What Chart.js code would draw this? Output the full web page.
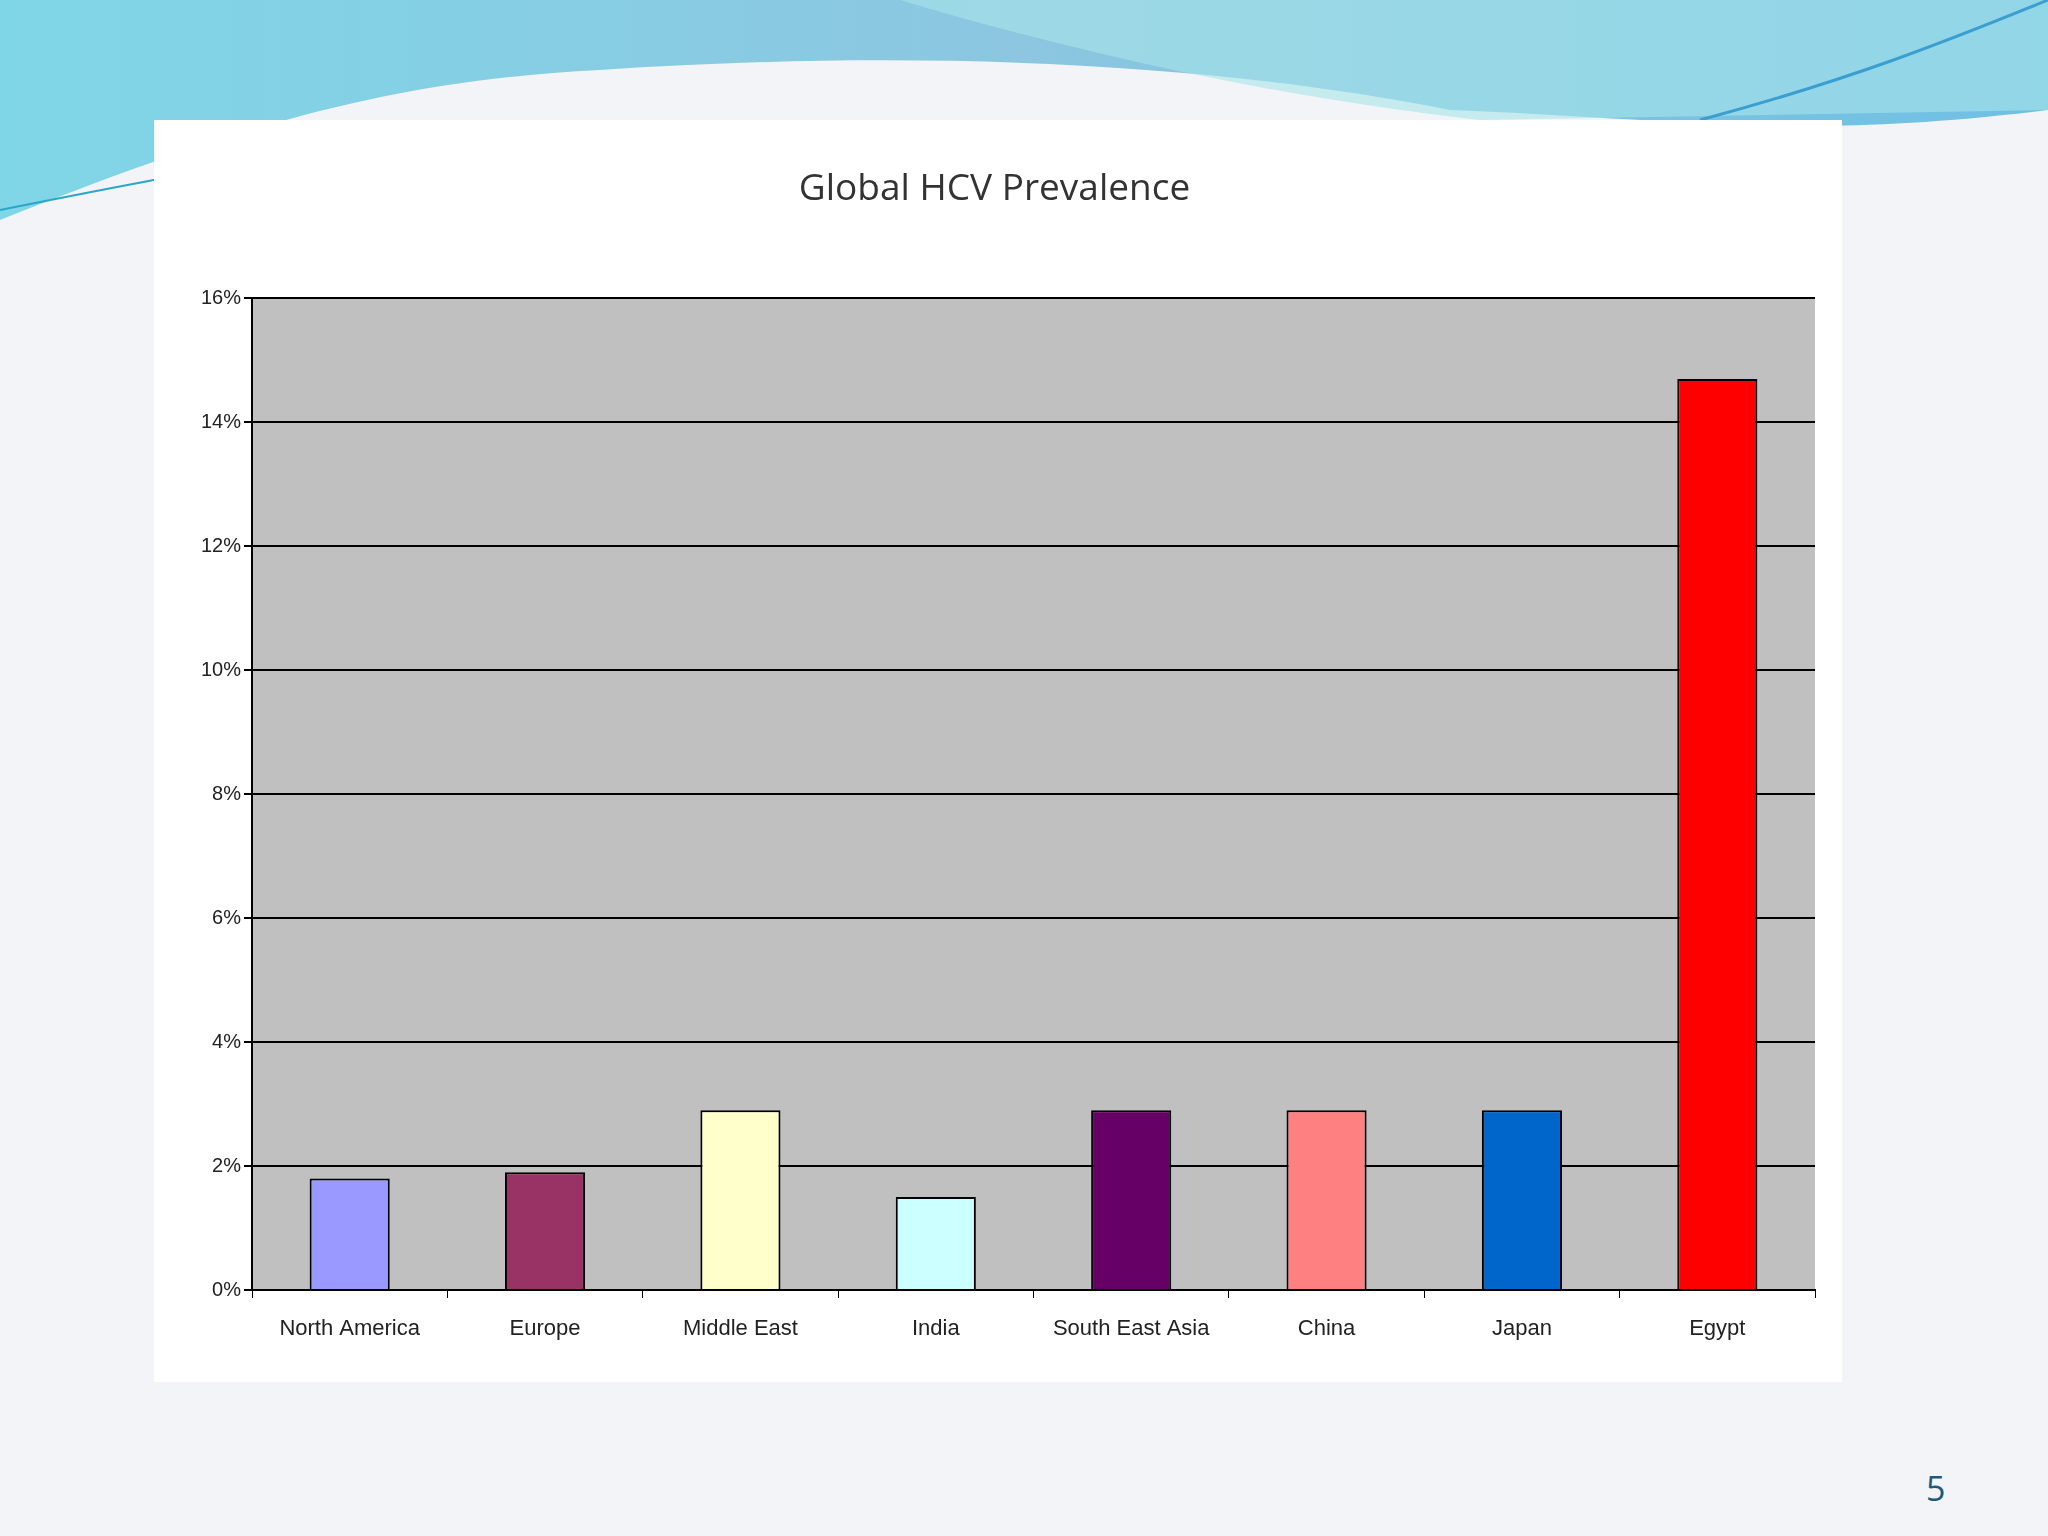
<!DOCTYPE html>
<html><head><meta charset="utf-8">
<script src="https://cdn.jsdelivr.net/npm/chart.js"></script>
<style>
html,body{margin:0;padding:0;width:2048px;height:1536px;overflow:hidden;background:#f3f4f7;font-family:"Open Sans",sans-serif}
#deco{position:absolute;left:0;top:0}
#panel{position:absolute;left:154px;top:120px;width:1688px;height:1262px;background:#fff}
#num{position:absolute;left:1926px;top:1465px;font-size:34px;color:#1f5a7a}
</style></head><body>
<svg id="deco" width="2048" height="240">
<defs><linearGradient id="g1" x1="0" x2="1"><stop offset="0" stop-color="#7fd6e6"/><stop offset="0.5" stop-color="#8cc6e0"/><stop offset="1" stop-color="#6fc0e4"/></linearGradient></defs>
<path d="M0 0 H2048 V110 C1800 140 1700 120 1450 110 C1200 60 900 50 600 70 C400 80 250 120 0 220 Z" fill="url(#g1)"/>
<path d="M900 0 C1100 60 1300 100 1480 120 L2048 110 V0 Z" fill="#a8e4ea" opacity="0.6"/>
<path d="M0 210 C150 180 250 160 420 140" stroke="#2aa6c8" stroke-width="2" fill="none"/>
<path d="M1700 120 C1850 80 1950 40 2048 0" stroke="#3a9fd0" stroke-width="3" fill="none"/>
</svg>
<div id="panel"><canvas id="c" width="1688" height="1262"></canvas></div>
<div id="num">5</div>
<script>
const categories=["North America","Europe","Middle East","India","South East Asia","China","Japan","Egypt"];
const values=[1.8,1.9,2.9,1.5,2.9,2.9,2.9,14.7];
const colors=["#9999ff","#993366","#ffffcc","#ccffff","#660066","#ff8080","#0066cc","#ff0000"];
const plotBg={id:"plotBg",beforeDraw(ch){const a=ch.chartArea,x=ch.ctx;x.save();x.fillStyle="#c0c0c0";x.fillRect(a.left,a.top,a.right-a.left,a.bottom-a.top);x.restore();}};
new Chart(document.getElementById("c"),{type:"bar",
data:{labels:categories,datasets:[{data:values,backgroundColor:colors,borderColor:"#000",borderWidth:2,borderSkipped:"bottom",categoryPercentage:1,barPercentage:0.41}]},
options:{responsive:false,animation:false,layout:{padding:{left:20,right:27}},
plugins:{legend:{display:false},tooltip:{enabled:false},title:{display:true,text:"Global HCV Prevalence",color:"#333",font:{family:"Open Sans",size:37,weight:"normal"},padding:{top:47,bottom:87}}},
scales:{
x:{grid:{display:true,drawOnChartArea:false,color:"#000",tickLength:8,offset:true},border:{color:"#000",width:2},ticks:{color:"#222",padding:18,font:{family:"Liberation Sans",size:22}},afterFit(s){s.height=92;}},
y:{min:0,max:16,grid:{color:"#000",lineWidth:2,tickLength:8},border:{color:"#000",width:2},ticks:{stepSize:2,color:"#222",font:{family:"Liberation Sans",size:20},callback:v=>v+"%"},afterFit(s){s.width=78;}}
}},plugins:[plotBg]});
</script></body></html>
